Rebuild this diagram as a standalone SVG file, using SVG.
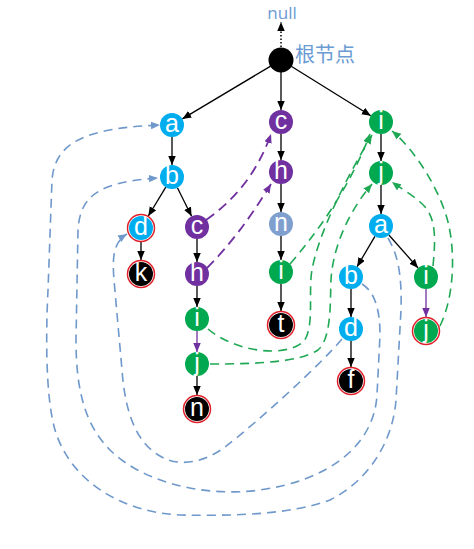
<svg xmlns="http://www.w3.org/2000/svg" width="474" height="549" viewBox="0 0 474 549">
<style>
.lbl{font-family:"Liberation Sans","Open Sans",sans-serif;font-size:25px;fill:#fff;text-anchor:middle}
.e{stroke:#000;stroke-width:1.3;fill:none;marker-end:url(#ab)}
.ep{stroke:#7030a0;stroke-width:1.3;fill:none;marker-end:url(#ap)}
.db{stroke:#6f98cb;stroke-width:1.6;fill:none;stroke-dasharray:9 6;marker-end:url(#mb)}
.dg{stroke:#1fa854;stroke-width:1.6;fill:none;stroke-dasharray:9 6;marker-end:url(#mg)}
.dp{stroke:#7030a0;stroke-width:1.8;fill:none;stroke-dasharray:10 6;marker-end:url(#mp)}
.ring{fill:none;stroke:#e0202a;stroke-width:1.5}
.cb{fill:#00aeef}.cp{fill:#7030a0}.cg{fill:#00a84f}.ck{fill:#000}.cl{fill:#7f9fcf}
.note{font-family:"Noto Sans CJK SC","Noto Sans",sans-serif;fill:#6a9bd3}
</style>
<defs>
<marker id="ab" markerUnits="userSpaceOnUse" markerWidth="10" markerHeight="8" refX="9" refY="3.75" orient="auto"><path d="M0,0 L9,3.75 L0,7.5 z" fill="#000"/></marker>
<marker id="ap" markerUnits="userSpaceOnUse" markerWidth="10" markerHeight="8" refX="9" refY="3.75" orient="auto"><path d="M0,0 L9,3.75 L0,7.5 z" fill="#7030a0"/></marker>
<marker id="mb" markerUnits="userSpaceOnUse" markerWidth="10" markerHeight="8" refX="9" refY="3.75" orient="auto"><path d="M0,0 L9,3.75 L0,7.5 z" fill="#6f98cb"/></marker>
<marker id="mg" markerUnits="userSpaceOnUse" markerWidth="10" markerHeight="8" refX="9" refY="3.75" orient="auto"><path d="M0,0 L9,3.75 L0,7.5 z" fill="#1fa854"/></marker>
<marker id="mp" markerUnits="userSpaceOnUse" markerWidth="10" markerHeight="8" refX="9" refY="3.75" orient="auto"><path d="M0,0 L9,3.75 L0,7.5 z" fill="#7030a0"/></marker>
</defs>

<g id="labels">
<text x="282" y="19" class="note" style="font-family:'Open Sans',sans-serif;font-size:17px" text-anchor="middle">null</text>
<text x="295" y="62" class="note" font-size="20">根节点</text>
</g>

<g id="connectors">
<line x1="281" y1="47" x2="281" y2="22" stroke="#000" stroke-width="1.5" stroke-dasharray="1.5 2" marker-end="url(#ab)"/>
<line class="e" x1="270.7" y1="66.1" x2="182.3" y2="118.9"/>
<line class="e" x1="281" y1="72" x2="281" y2="110"/>
<line class="e" x1="291.2" y1="66.3" x2="370.8" y2="115.7"/>
<line class="e" x1="172" y1="137" x2="172" y2="165"/>
<line class="e" x1="165.8" y1="187.2" x2="148.3" y2="216"/>
<line class="e" x1="177.4" y1="187.7" x2="191.6" y2="216.3"/>
<line class="e" x1="141" y1="242" x2="141" y2="260"/>
<line class="e" x1="197" y1="239" x2="197" y2="262"/>
<line class="e" x1="197" y1="286" x2="197" y2="307"/>
<line class="ep" x1="197" y1="331" x2="197" y2="352"/>
<line class="e" x1="197" y1="376" x2="197" y2="395"/>
<line class="e" x1="281" y1="134" x2="281" y2="160"/>
<line class="e" x1="281" y1="184" x2="281" y2="212"/>
<line class="e" x1="281" y1="236" x2="281" y2="260"/>
<line class="e" x1="281" y1="284" x2="281" y2="311"/>
<line class="e" x1="381" y1="134" x2="381" y2="161"/>
<line class="e" x1="381" y1="185" x2="381" y2="214"/>
<line class="e" x1="374.9" y1="236.3" x2="357.1" y2="266.7"/>
<line class="e" x1="388.9" y1="235" x2="418.1" y2="268"/>
<line class="e" x1="351" y1="289" x2="351" y2="317"/>
<line class="e" x1="351" y1="341" x2="351" y2="367"/>
<line class="ep" x1="426" y1="289" x2="426" y2="317"/>

<path class="dp" d="M206,220 Q252,188 271,134"/>
<path class="dp" d="M207,268 Q240,235 271,184"/>

<path class="dg" d="M290,264 Q345,200 370,134"/>
<path class="dg" d="M208,329 C235,352 285,358 303,342 C315,330 308,290 312,270 C318,235 345,180 372,135"/>
<path class="dg" d="M210,364 C260,364 300,362 318,350 C332,338 330,300 331,280 C333,245 350,210 372,184"/>
<path class="dg" d="M433,266 C436,235 436,215 420,202 C410,193 400,188 392,182"/>
<path class="dg" d="M440,326 C455,295 455,250 448,222 C440,190 415,150 392,131"/>

<path class="db" d="M388,238 C398,255 402,275 401,310 L396,400 C393,440 370,480 330,500 C290,515 230,516 180,515 C120,512 70,480 55,430 C45,395 46,330 48,290 L52,180 C55,140 90,128 160,125"/>
<path class="db" d="M362,284 C375,292 380,310 380,335 L377,395 C374,445 330,480 260,490 C200,498 140,480 110,450 C85,425 76,390 76,340 L78,230 C80,195 100,182 158,178"/>
<path class="db" d="M342,339 C320,365 260,420 225,447 C205,462 180,468 160,456 C135,442 125,410 122,370 L114,280 C112,255 114,242 127,234"/>
</g>

<g id="root"><circle cx="281" cy="60" r="12.5" class="ck"/></g>

<g id="a1"><circle cx="172" cy="125" r="12" class="cb"/><text x="172" y="132" class="lbl">a</text></g>
<g id="b1"><circle cx="172" cy="177" r="12" class="cb"/><text x="172" y="184" class="lbl">b</text></g>
<g id="d1"><circle cx="141" cy="228" r="12" class="cb"/><circle cx="141" cy="228" r="13.5" class="ring"/><text x="141" y="235" class="lbl">d</text></g>
<g id="k1"><circle cx="141" cy="274" r="12" class="ck"/><circle cx="141" cy="274" r="13.5" class="ring"/><text x="141" y="281" class="lbl">k</text></g>
<g id="c1"><circle cx="197" cy="227" r="12" class="cp"/><text x="197" y="234" class="lbl">c</text></g>
<g id="h1"><circle cx="197" cy="274" r="12" class="cp"/><text x="197" y="281" class="lbl">h</text></g>
<g id="i1"><circle cx="197" cy="319" r="12" class="cg"/><text x="197" y="326" class="lbl">i</text></g>
<g id="j1"><circle cx="197" cy="364" r="12" class="cg"/><text x="197" y="371" class="lbl">j</text></g>
<g id="n1"><circle cx="197" cy="409" r="12" class="ck"/><circle cx="197" cy="409" r="13.5" class="ring"/><text x="197" y="416" class="lbl">n</text></g>

<g id="c2"><circle cx="281" cy="122" r="12" class="cp"/><text x="281" y="129" class="lbl">c</text></g>
<g id="h2"><circle cx="281" cy="172" r="12" class="cp"/><text x="281" y="179" class="lbl">h</text></g>
<g id="n2"><circle cx="281" cy="224" r="12" class="cl"/><text x="281" y="231" class="lbl">n</text></g>
<g id="i2"><circle cx="281" cy="272" r="12" class="cg"/><text x="281" y="279" class="lbl">i</text></g>
<g id="t2"><circle cx="281" cy="325" r="12" class="ck"/><circle cx="281" cy="325" r="13.5" class="ring"/><text x="281" y="332" class="lbl">t</text></g>

<g id="i3"><circle cx="381" cy="122" r="12" class="cg"/><text x="381" y="129" class="lbl">i</text></g>
<g id="j3"><circle cx="381" cy="173" r="12" class="cg"/><text x="381" y="180" class="lbl">j</text></g>
<g id="a3"><circle cx="381" cy="226" r="12" class="cb"/><text x="381" y="233" class="lbl">a</text></g>
<g id="b3"><circle cx="351" cy="277" r="12" class="cb"/><text x="351" y="284" class="lbl">b</text></g>
<g id="d3"><circle cx="351" cy="329" r="12" class="cb"/><text x="351" y="336" class="lbl">d</text></g>
<g id="f3"><circle cx="351" cy="381" r="12" class="ck"/><circle cx="351" cy="381" r="13.5" class="ring"/><text x="351" y="388" class="lbl">f</text></g>
<g id="i4"><circle cx="426" cy="277" r="12" class="cg"/><text x="426" y="284" class="lbl">i</text></g>
<g id="j4"><circle cx="426" cy="331" r="12" class="cg"/><circle cx="426" cy="331" r="13.5" class="ring"/><text x="426" y="338" class="lbl">j</text></g>
</svg>
